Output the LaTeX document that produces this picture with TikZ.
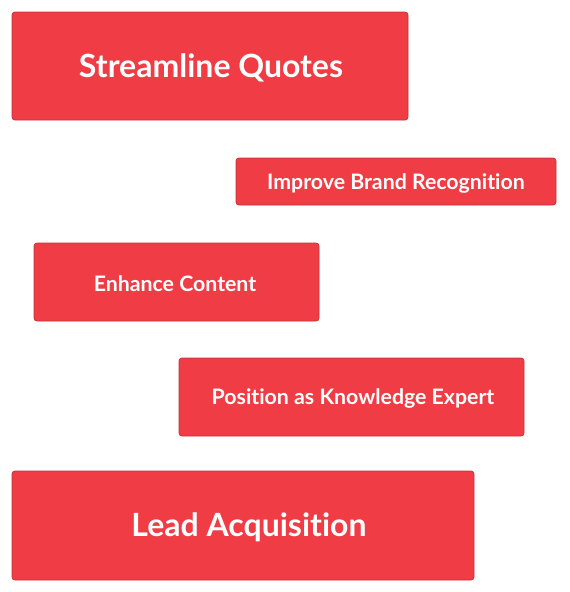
\documentclass[tikz,border=0pt]{standalone}
\usepackage{fontspec}
\setmainfont{Lato}[Ligatures=NoCommon]
\definecolor{boxred}{HTML}{F03C44}
\definecolor{boxedge}{HTML}{C8323A}
\begin{document}
\begin{tikzpicture}[x=1pt,y=-1pt,
  rbox/.style={draw=boxedge, line width=0.8pt, fill=boxred, rounded corners=3pt},
  lbl/.style={text=white, inner sep=0pt},
  big/.style={font=\bfseries\fontsize{32}{36}\selectfont},
  small/.style={font=\bfseries\fontsize{21.3}{25}\selectfont}]
\useasboundingbox (0,0) rectangle (570,592);
\draw[rbox] (12,12) rectangle (408,120);
\node[lbl, big] (sq) at (211,68) {Streamline Quotes};
\draw[rbox] (236,158) rectangle (556,205);
\node[lbl, small] (ib) at (396,183.5) {Improve Brand Recognition};
\draw[rbox] (34,243) rectangle (319,321);
\node[lbl, small] (ec) at (175,283.5) {Enhance Content};
\draw[rbox] (179,358) rectangle (524,436);
\node[lbl, small] (pk) at (353,398.5) {Position as Knowledge Expert};
\draw[rbox] (12,471) rectangle (474,580);
\node[lbl, big] (la) at (249,527) {Lead Acquisition};
\end{tikzpicture}
\end{document}
